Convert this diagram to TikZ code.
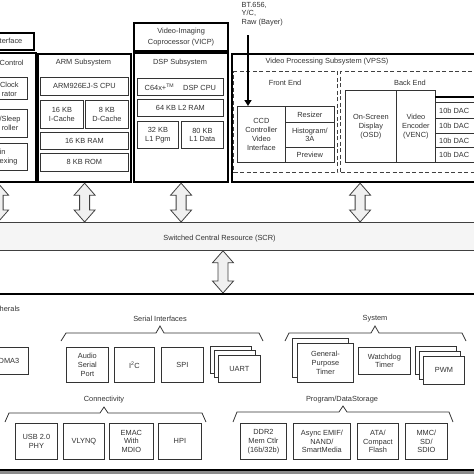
\documentclass[tikz,border=0pt]{standalone}
\usepackage{fontspec}
\setmainfont{Liberation Sans}
\usetikzlibrary{arrows.meta,calc}
\tikzset{
 t/.style={font=\fontsize{7.4}{8.8}\selectfont, text=black!80, align=center, inner sep=0pt},
 thk/.style={draw=black, line width=2.2pt, inner sep=0pt},
 ib/.style={draw=black!80, line width=0.8pt, fill=white, t},
 dbox/.style={draw=black!75, line width=1.2pt, dash pattern=on 4pt off 2.5pt, inner sep=0pt},
 fat/.style={draw=black!75, line width=0.8pt, fill=black!6, line join=miter},
 brace/.style={draw=black!80, line width=0.8pt},
 inarrow/.style={draw=black, line width=2.2pt, -{Triangle[length=6pt,width=7pt]}},
}
\newcommand\bx[7]{\node[#2, minimum width={(#5)-(#3)}, minimum height={(#6)-(#4)}, anchor=north west] (#1) at (#3,#4) {#7};}
\newcommand\fatarrow[2]{\path[fat] let \p1=#1, \p2=#2 in
 (\x1,\y1) -- (\x1+10.5pt,\y1-12pt) -- (\x1+5pt,\y1-12pt) -- (\x1+5pt,\y2+12pt) -- (\x1+10.5pt,\y2+12pt) --
 (\x1,\y2) -- (\x1-10.5pt,\y2+12pt) -- (\x1-5pt,\y2+12pt) -- (\x1-5pt,\y1-12pt) -- (\x1-10.5pt,\y1-12pt) -- cycle;}
\begin{document}
\begin{tikzpicture}[x=1pt,y=-1pt]
\useasboundingbox (0,0) rectangle (474,474);
\clip (0,0) rectangle (474,474);
% left column
\bx{hif}{thk}{-41}{32}{33}{49}{}
\node[t, anchor=west] (hift) at (-0.5,40.5) {terface};
\bx{ctl}{thk}{-41}{52}{35}{181}{}
\node[t, anchor=west] (ctlt) at (-0.5,63) {Control};
\bx{pll}{ib}{-41}{77}{27}{99}{}
\node[t] (pllt) at (9.3,89.5) {Clock\\rator};
\bx{psc}{ib}{-41}{109}{27}{137}{}
\node[t] (psct) at (10,123.5) {/Sleep\\roller};
\bx{pmx}{ib}{-41}{143}{27}{170}{}
\node[t, anchor=west, align=left] (pmxt) at (-0.5,157) {in\\exing};
% ARM
\bx{arm}{thk}{37}{53}{130}{181}{}
\node[t] (armt) at (83.5,63) {ARM Subsystem};
\bx{cpu}{ib}{40}{77}{128}{95}{ARM926EJ-S CPU}
\bx{icache}{ib}{40}{100}{83}{128}{16 KB\\I-Cache}
\bx{dcache}{ib}{85}{100}{128}{128}{8 KB\\D-Cache}
\bx{aram}{ib}{40}{132}{128}{149}{16 KB RAM}
\bx{arom}{ib}{40}{153}{128}{171}{8 KB ROM}
% VICP / DSP
\bx{vicp}{thk,t}{133}{22}{227}{50}{Video-Imaging\\[3pt]Coprocessor (VICP)}
\bx{dsp}{thk}{133}{52}{227}{181}{}
\node[t] (dspt) at (180,63) {DSP Subsystem};
\bx{dcpu}{ib}{137}{78}{223}{95}{C64x+\textsuperscript{TM}\hspace{1.2em}DSP CPU}
\bx{l2}{ib}{137}{99}{223}{116}{64 KB L2 RAM}
\bx{l1p}{ib}{137}{121}{178}{148}{32 KB\\L1 Pgm}
\bx{l1d}{ib}{181}{121}{223}{148}{80 KB\\L1 Data}
% VPSS
\bx{vpss}{thk}{231}{53}{487}{181}{}
\node[t] (vpsst) at (327,62) {Video Processing Subsystem (VPSS)};
\bx{fe}{dbox}{233}{71}{337}{172}{}
\bx{be}{dbox}{340}{71}{482}{172}{}
\node[t] (fet) at (285,83) {Front End};
\node[t] (bet) at (410,83) {Back End};
\bx{ccd}{ib}{237}{106}{285}{162}{CCD\\Controller\\Video\\Interface}
\bx{rsz}{ib}{285}{106}{334}{122}{Resizer}
\bx{hist}{ib}{285}{122}{334}{147}{Histogram/\\3A}
\bx{prev}{ib}{285}{147}{334}{162}{Preview}
\bx{osd}{ib}{345}{90}{396}{162}{On-Screen\\Display\\(OSD)}
\bx{venc}{ib}{396}{90}{435}{162}{Video\\Encoder\\(VENC)}
\draw[line width=2pt] (435,97) -- (482,97);
\bx{dac1}{ib}{435}{102}{477}{118}{}
\bx{dac2}{ib}{435}{118}{477}{133}{}
\bx{dac3}{ib}{435}{133}{477}{147}{}
\bx{dac4}{ib}{435}{147}{477}{162}{}
\node[t, anchor=west] (dac1t) at ($(dac1.west)+(4,0)$) {10b DAC};
\node[t, anchor=west] (dac2t) at ($(dac2.west)+(4,0)$) {10b DAC};
\node[t, anchor=west] (dac3t) at ($(dac3.west)+(4,0)$) {10b DAC};
\node[t, anchor=west] (dac4t) at ($(dac4.west)+(4,0)$) {10b DAC};
\coordinate (vin) at (248,35);
\draw[inarrow] (vin) -- (vin |- ccd.north);
\node[t, anchor=west, align=left] (vint) at (241.5,14) {BT.656,\\Y/C,\\Raw (Bayer)};
% SCR
\node[draw=black!75, line width=0.8pt, fill=black!4, minimum width=519, minimum height=28, anchor=north west, inner sep=0pt] (scr) at (-40,222) {};
\node[t] (scrt) at (219.5,239) {Switched Central Resource (SCR)};
\fatarrow{(ctl.south)}{(ctl.south |- scr.north)}
\fatarrow{(arm.south)}{(arm.south |- scr.north)}
\fatarrow{(dsp.south)}{(dsp.south |- scr.north)}
\fatarrow{(vpss.south)}{(vpss.south |- scr.north)}
\coordinate (pbus) at (223,293);
\fatarrow{(pbus |- scr.south)}{(pbus)}
% Peripherals
\fill[black!45] (-5,470.5) rectangle (480,480);
\bx{per}{thk}{-40}{293}{490}{469}{}
\node[t, anchor=west] (pert) at (-0.5,309) {herals};
\bx{edma}{ib}{-41}{347}{28}{374}{}
\node[t, anchor=west] (edmat) at (-1.5,360.5) {DMA3};
% Serial
\node[t] (serl) at (160,319) {Serial Interfaces};
\draw[brace] (61,341) -- (66,333) -- (156,333) -- (160,326) -- (164,333) -- (259,333) -- (263,341);
\bx{asp}{ib}{66}{347}{108}{382}{Audio\\Serial\\Port}
\bx{iic}{ib}{114}{347}{154}{382}{I\textsuperscript{2}C}
\bx{spi}{ib}{161}{347}{203}{382}{SPI}
\bx{uart3}{ib}{210}{346}{251}{373}{}
\bx{uart2}{ib}{214}{350}{255}{377}{}
\bx{uart}{ib}{218}{355}{260}{382}{UART}
% System
\node[t] (sysl) at (375,319) {System};
\draw[brace] (285,341) -- (289,333) -- (371,333) -- (375,326) -- (379,333) -- (462,333) -- (466,341);
\bx{gpt2}{ib}{292}{338}{348}{377}{}
\bx{gpt}{ib}{297}{343}{353}{382}{General-\\Purpose\\Timer}
\bx{wdt}{ib}{358}{347}{410}{374}{Watchdog\\Timer}
\bx{pwm3}{ib}{415}{346}{456}{374}{}
\bx{pwm2}{ib}{419}{351}{460}{379}{}
\bx{pwm}{ib}{423}{356}{464}{384}{PWM}
% Connectivity
\node[t] (conl) at (104,400) {Connectivity};
\draw[brace] (5,422) -- (9,413) -- (100,413) -- (104,407) -- (108,413) -- (202,413) -- (206,422);
\bx{usb}{ib}{15}{423}{57}{459}{USB 2.0\\PHY}
\bx{vlynq}{ib}{63}{423}{104}{459}{VLYNQ}
\bx{emac}{ib}{109}{423}{153}{459}{EMAC\\With\\MDIO}
\bx{hpi}{ib}{158}{423}{201}{459}{HPI}
% Storage
\node[t] (stol) at (342,400) {Program/DataStorage};
\draw[brace] (233,422) -- (237,412) -- (339,412) -- (343,406) -- (347,412) -- (449,412) -- (453,422);
\bx{ddr}{ib}{240}{423}{286}{459}{DDR2\\Mem Ctlr\\(16b/32b)}
\bx{emif}{ib}{293}{423}{350}{459}{Async EMIF/\\NAND/\\SmartMedia}
\bx{ata}{ib}{357}{423}{398}{459}{ATA/\\Compact\\Flash}
\bx{mmc}{ib}{405}{423}{447}{459}{MMC/\\SD/\\SDIO}
\end{tikzpicture}
\end{document}
